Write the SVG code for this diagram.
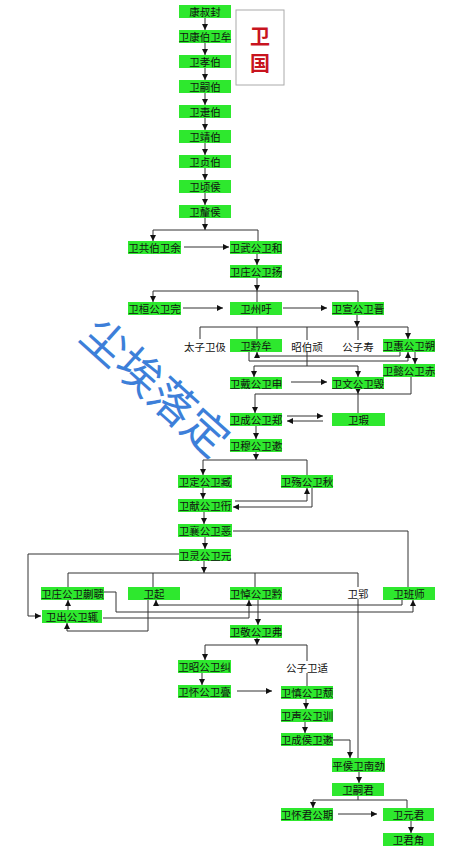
<svg xmlns="http://www.w3.org/2000/svg" width="465" height="858" viewBox="0 0 465 858">
<defs>
<marker id="ah" markerWidth="6" markerHeight="6" refX="6" refY="3" orient="auto" markerUnits="userSpaceOnUse"><path d="M0,0 L6,3 L0,6 z" fill="#111"/></marker>
<style>
.n rect{fill:#2ee82e}
text{font-family:"Noto Sans CJK SC","Noto Sans",sans-serif;font-size:10.5px;text-anchor:middle;dominant-baseline:central;fill:#111}
.c path{fill:none;stroke:#333;stroke-width:1}
.c path.a{marker-end:url(#ah)}
.wm{font-size:45px;fill:#3d7fd9;text-anchor:start;dominant-baseline:auto}
.title{font-size:20px;fill:#c8141e;font-weight:bold}
</style>
</defs>
<rect width="465" height="858" fill="#fff"/>
<g id="watermark"><text class="wm" transform="translate(78,339) rotate(42)">尘埃落定</text></g>
<g id="state">
<rect x="236" y="10" width="48" height="75" fill="#fff" stroke="#aaa" stroke-width="1"/>
<text class="title" x="260" y="35">卫</text>
<text class="title" x="260" y="62">国</text>
</g>
<g class="c" id="connectors">
<path class="a" d="M205,18 V30"/>
<path class="a" d="M205,43 V55"/>
<path class="a" d="M205,68 V80"/>
<path class="a" d="M205,93 V105"/>
<path class="a" d="M205,118 V130"/>
<path class="a" d="M205,143 V155"/>
<path class="a" d="M205,168 V180"/>
<path class="a" d="M205,193 V205"/>
<path class="a" d="M205,218 V230"/>
<path d="M153,230 H258 V241"/>
<path class="a" d="M153,230 V241"/>
<path class="a" d="M184,247 H229"/>
<path class="a" d="M257,254 V265"/>
<path class="a" d="M257,278 V291"/>
<path d="M153,291 H358 V302"/>
<path class="a" d="M153,291 V302"/>
<path d="M257,291 V302"/>
<path class="a" d="M183,308 H223"/>
<path class="a" d="M283,308 H327"/>
<path class="a" d="M357,315 V327"/>
<path d="M200,339 V327 H408"/>
<path class="a" d="M408,327 V339"/>
<path d="M257,327 V339"/>
<path d="M307,327 V340"/>
<path d="M358,327 V340"/>
<path class="a" d="M400,352 V356 H257 V352"/>
<path class="a" d="M249,352 V361 H408 V352"/>
<path class="a" d="M415,352 V364"/>
<path d="M307,352 V366 H358"/>
<path class="a" d="M307,366 H254 V377"/>
<path class="a" d="M358,366 V377"/>
<path class="a" d="M291,382 H327"/>
<path d="M411,377 V394"/>
<path class="a" d="M411,394 H255 V413"/>
<path class="a" d="M358,389 V394"/>
<path d="M358,394 V413"/>
<path class="a" d="M287,416 H323"/>
<path class="a" d="M323,421 H287"/>
<path class="a" d="M256,426 V439"/>
<path class="a" d="M256,452 V460"/>
<path d="M203,460 H307 V475"/>
<path class="a" d="M203,460 V475"/>
<path class="a" d="M203,488 V499"/>
<path class="a" d="M235,501 H307 V488"/>
<path class="a" d="M312,488 V507 H233"/>
<path class="a" d="M204,512 V524"/>
<path d="M233,531 H408 V587"/>
<path class="a" d="M205,537 V549"/>
<path class="a" d="M179,554 H28 V616 H41"/>
<path class="a" d="M204,561 V573"/>
<path d="M68,587 V573 H358 V587"/>
<path d="M153,573 V587"/>
<path d="M255,573 V587"/>
<path d="M358,599 V758"/>
<path class="a" d="M68,610 V600"/>
<path class="a" d="M148,599 V631 H67 V623"/>
<path class="a" d="M104,592 H116 V612 H413 V600"/>
<path class="a" d="M402,600 V605 H156 V600"/>
<path class="a" d="M103,618 H249 V600"/>
<path class="a" d="M258,600 V625"/>
<path class="a" d="M257,638 V645"/>
<path d="M205,645 H307 V661"/>
<path class="a" d="M205,645 V660"/>
<path class="a" d="M202,673 V685"/>
<path class="a" d="M237,691 H272"/>
<path d="M307,673 V686"/>
<path class="a" d="M306,699 V709"/>
<path class="a" d="M305,722 V733"/>
<path class="a" d="M333,740 H350 V758"/>
<path class="a" d="M359,772 V783"/>
<path d="M358,796 V800"/>
<path d="M313,800 H407 V808"/>
<path class="a" d="M313,800 V808"/>
<path class="a" d="M338,814 H377"/>
<path class="a" d="M411,821 V833"/>
</g>
<g class="n" id="n1"><rect x="179" y="5" width="52" height="13"/><text x="205" y="11.5">康叔封</text></g>
<g class="n" id="n2"><rect x="179" y="30" width="52" height="13"/><text x="205" y="36.5">卫康伯卫牟</text></g>
<g class="n" id="n3"><rect x="179" y="55" width="52" height="13"/><text x="205" y="61.5">卫孝伯</text></g>
<g class="n" id="n4"><rect x="179" y="80" width="52" height="13"/><text x="205" y="86.5">卫嗣伯</text></g>
<g class="n" id="n5"><rect x="179" y="105" width="52" height="13"/><text x="205" y="111.5">卫疌伯</text></g>
<g class="n" id="n6"><rect x="179" y="130" width="52" height="13"/><text x="205" y="136.5">卫靖伯</text></g>
<g class="n" id="n7"><rect x="179" y="155" width="52" height="13"/><text x="205" y="161.5">卫贞伯</text></g>
<g class="n" id="n8"><rect x="179" y="180" width="52" height="13"/><text x="205" y="186.5">卫顷侯</text></g>
<g class="n" id="n9"><rect x="179" y="205" width="52" height="13"/><text x="205" y="211.5">卫釐侯</text></g>
<g class="n" id="n10"><rect x="128" y="241" width="53" height="13"/><text x="154.5" y="247.5">卫共伯卫余</text></g>
<g class="n" id="n11"><rect x="230" y="241" width="52" height="13"/><text x="256" y="247.5">卫武公卫和</text></g>
<g class="n" id="n12"><rect x="230" y="265" width="52" height="13"/><text x="256" y="271.5">卫庄公卫扬</text></g>
<g class="n" id="n13"><rect x="128" y="302" width="53" height="13"/><text x="154.5" y="308.5">卫桓公卫完</text></g>
<g class="n" id="n14"><rect x="230" y="302" width="52" height="13"/><text x="256" y="308.5">卫州吁</text></g>
<g class="n" id="n15"><rect x="332" y="302" width="52" height="13"/><text x="358" y="308.5">卫宣公卫晋</text></g>
<g id="t1"><text x="205" y="346">太子卫伋</text></g>
<g class="n" id="n16"><rect x="230" y="339" width="52" height="13"/><text x="256" y="345.5">卫黔牟</text></g>
<g id="t2"><text x="307" y="346">昭伯顽</text></g>
<g id="t3"><text x="358" y="346">公子寿</text></g>
<g class="n" id="n17"><rect x="383" y="339" width="52" height="13"/><text x="409" y="345.5">卫惠公卫朔</text></g>
<g class="n" id="n18"><rect x="383" y="364" width="52" height="13"/><text x="409" y="370.5">卫懿公卫赤</text></g>
<g class="n" id="n19"><rect x="230" y="377" width="52" height="12"/><text x="256" y="383">卫戴公卫申</text></g>
<g class="n" id="n20"><rect x="332" y="377" width="52" height="12"/><text x="358" y="383">卫文公卫毁</text></g>
<g class="n" id="n21"><rect x="230" y="413" width="52" height="13"/><text x="256" y="419.5">卫成公卫郑</text></g>
<g class="n" id="n22"><rect x="332" y="413" width="53" height="13"/><text x="358.5" y="419.5">卫瑕</text></g>
<g class="n" id="n23"><rect x="230" y="439" width="52" height="13"/><text x="256" y="445.5">卫穆公卫遬</text></g>
<g class="n" id="n24"><rect x="178" y="475" width="54" height="13"/><text x="205" y="481.5">卫定公卫臧</text></g>
<g class="n" id="n25"><rect x="281" y="475" width="52" height="13"/><text x="307" y="481.5">卫殇公卫秋</text></g>
<g class="n" id="n26"><rect x="178" y="499" width="54" height="13"/><text x="205" y="505.5">卫献公卫衎</text></g>
<g class="n" id="n27"><rect x="178" y="524" width="54" height="13"/><text x="205" y="530.5">卫襄公卫恶</text></g>
<g class="n" id="n28"><rect x="179" y="549" width="52" height="12"/><text x="205" y="555">卫灵公卫元</text></g>
<g class="n" id="n29"><rect x="41" y="587" width="63" height="13"/><text x="72.5" y="593.5">卫庄公卫蒯聩</text></g>
<g class="n" id="n30"><rect x="128" y="587" width="52" height="13"/><text x="154" y="593.5">卫起</text></g>
<g class="n" id="n31"><rect x="230" y="587" width="52" height="13"/><text x="256" y="593.5">卫悼公卫黔</text></g>
<g id="t4"><text x="358" y="593">卫郢</text></g>
<g class="n" id="n32"><rect x="383" y="587" width="52" height="13"/><text x="409" y="593.5">卫班师</text></g>
<g class="n" id="n33"><rect x="42" y="610" width="60" height="13"/><text x="72" y="616.5">卫出公卫辄</text></g>
<g class="n" id="n34"><rect x="230" y="625" width="52" height="13"/><text x="256" y="631.5">卫敬公卫弗</text></g>
<g class="n" id="n35"><rect x="178" y="660" width="53" height="13"/><text x="204.5" y="666.5">卫昭公卫纠</text></g>
<g id="t5"><text x="307" y="667">公子卫适</text></g>
<g class="n" id="n36"><rect x="178" y="685" width="53" height="13"/><text x="204.5" y="691.5">卫怀公卫亹</text></g>
<g class="n" id="n37"><rect x="281" y="686" width="52" height="13"/><text x="307" y="692.5">卫慎公卫颓</text></g>
<g class="n" id="n38"><rect x="281" y="709" width="52" height="13"/><text x="307" y="715.5">卫声公卫训</text></g>
<g class="n" id="n39"><rect x="281" y="733" width="52" height="13"/><text x="307" y="739.5">卫成侯卫遬</text></g>
<g class="n" id="n40"><rect x="332" y="758" width="53" height="14"/><text x="358.5" y="765">平侯卫南劲</text></g>
<g class="n" id="n41"><rect x="332" y="783" width="52" height="13"/><text x="358" y="789.5">卫嗣君</text></g>
<g class="n" id="n42"><rect x="281" y="808" width="52" height="13"/><text x="307" y="814.5">卫怀君公期</text></g>
<g class="n" id="n43"><rect x="383" y="808" width="51" height="13"/><text x="408.5" y="814.5">卫元君</text></g>
<g class="n" id="n44"><rect x="383" y="833" width="51" height="13"/><text x="408.5" y="839.5">卫君角</text></g>
</svg>
